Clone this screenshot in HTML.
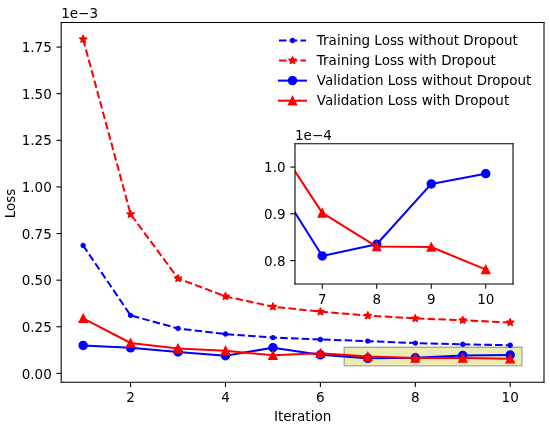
<!DOCTYPE html>
<html><head><meta charset="utf-8"><title>Loss plot</title>
<style>html,body{margin:0;padding:0;background:#fff;width:550px;height:426px;overflow:hidden}svg{display:block}</style>
</head><body>
<svg width="550" height="426" preserveAspectRatio="none" viewBox="0 0 406.905055 315.166461" version="1.1">
 <defs>
  <style type="text/css">*{stroke-linejoin: round; stroke-linecap: butt}</style>
 </defs>
 <g id="figure_1">
  <g id="patch_1">
   <path d="M 0 315.166461 L 406.905055 315.166461 L 406.905055 0 L 0 0 z
" style="fill: #ffffff"/>
  </g>
  <g id="axes_1">
   <g id="patch_2">
    <path d="M 45.277435 282.836005 L 402.466091 282.836005 L 402.466091 16.646116 L 45.277435 16.646116 z
" style="fill: #ffffff"/>
   </g>
   <g id="patch_3">
    <path d="M 254.588232 270.736465 L 386.230243 270.736465 L 386.230243 256.939953 L 254.588232 256.939953 z
" clip-path="url(#p5f7cb0e3a2)" style="fill: #bfbf00; fill-opacity: 0.3; stroke-opacity: 0.3; stroke: #000000; stroke-linejoin: miter"/>
   </g>
   <g id="matplotlib.axis_1">
    <g id="xtick_1">
     <g id="line2d_1">
      <defs>
       <path id="m1504cfccaf" d="M 0 0 L 0 3.5 " style="stroke: #000000; stroke-width: 0.8"/>
      </defs>
      <g>
       <use href="#m1504cfccaf" x="96.617819" y="282.836005" style="stroke: #000000; stroke-width: 0.8"/>
      </g>
     </g>
     <g id="text_1">
      <text style="font-size: 10px; font-family: 'DejaVu Sans', 'Liberation Sans', sans-serif; text-anchor: middle" x="96.617819" y="297.434442" transform="rotate(-0 96.617819 297.434442)">2</text>
     </g>
    </g>
    <g id="xtick_2">
     <g id="line2d_2">
      <g>
       <use href="#m1504cfccaf" x="166.826892" y="282.836005" style="stroke: #000000; stroke-width: 0.8"/>
      </g>
     </g>
     <g id="text_2">
      <text style="font-size: 10px; font-family: 'DejaVu Sans', 'Liberation Sans', sans-serif; text-anchor: middle" x="166.826892" y="297.434442" transform="rotate(-0 166.826892 297.434442)">4</text>
     </g>
    </g>
    <g id="xtick_3">
     <g id="line2d_3">
      <g>
       <use href="#m1504cfccaf" x="237.035964" y="282.836005" style="stroke: #000000; stroke-width: 0.8"/>
      </g>
     </g>
     <g id="text_3">
      <text style="font-size: 10px; font-family: 'DejaVu Sans', 'Liberation Sans', sans-serif; text-anchor: middle" x="237.035964" y="297.434442" transform="rotate(-0 237.035964 297.434442)">6</text>
     </g>
    </g>
    <g id="xtick_4">
     <g id="line2d_4">
      <g>
       <use href="#m1504cfccaf" x="307.245037" y="282.836005" style="stroke: #000000; stroke-width: 0.8"/>
      </g>
     </g>
     <g id="text_4">
      <text style="font-size: 10px; font-family: 'DejaVu Sans', 'Liberation Sans', sans-serif; text-anchor: middle" x="307.245037" y="297.434442" transform="rotate(-0 307.245037 297.434442)">8</text>
     </g>
    </g>
    <g id="xtick_5">
     <g id="line2d_5">
      <g>
       <use href="#m1504cfccaf" x="377.454109" y="282.836005" style="stroke: #000000; stroke-width: 0.8"/>
      </g>
     </g>
     <g id="text_5">
      <text style="font-size: 10px; font-family: 'DejaVu Sans', 'Liberation Sans', sans-serif; text-anchor: middle" x="377.454109" y="297.434442" transform="rotate(-0 377.454109 297.434442)">10</text>
     </g>
    </g>
    <g id="text_6">
     <text style="font-size: 10px; font-family: 'DejaVu Sans', 'Liberation Sans', sans-serif; text-anchor: middle" x="223.871763" y="311.112567" transform="rotate(-0 223.871763 311.112567)">Iteration</text>
    </g>
   </g>
   <g id="matplotlib.axis_2">
    <g id="ytick_1">
     <g id="line2d_6">
      <defs>
       <path id="m5d545ce8f8" d="M 0 0 L -3.5 0 " style="stroke: #000000; stroke-width: 0.8"/>
      </defs>
      <g>
       <use href="#m5d545ce8f8" x="45.277435" y="276.255069" style="stroke: #000000; stroke-width: 0.8"/>
      </g>
     </g>
     <g id="text_7">
      <text style="font-size: 10px; font-family: 'DejaVu Sans', 'Liberation Sans', sans-serif; text-anchor: end" x="38.277435" y="280.054288" transform="rotate(-0 38.277435 280.054288)">0.00</text>
     </g>
    </g>
    <g id="ytick_2">
     <g id="line2d_7">
      <g>
       <use href="#m5d545ce8f8" x="45.277435" y="241.763791" style="stroke: #000000; stroke-width: 0.8"/>
      </g>
     </g>
     <g id="text_8">
      <text style="font-size: 10px; font-family: 'DejaVu Sans', 'Liberation Sans', sans-serif; text-anchor: end" x="38.277435" y="245.56301" transform="rotate(-0 38.277435 245.56301)">0.25</text>
     </g>
    </g>
    <g id="ytick_3">
     <g id="line2d_8">
      <g>
       <use href="#m5d545ce8f8" x="45.277435" y="207.272513" style="stroke: #000000; stroke-width: 0.8"/>
      </g>
     </g>
     <g id="text_9">
      <text style="font-size: 10px; font-family: 'DejaVu Sans', 'Liberation Sans', sans-serif; text-anchor: end" x="38.277435" y="211.071731" transform="rotate(-0 38.277435 211.071731)">0.50</text>
     </g>
    </g>
    <g id="ytick_4">
     <g id="line2d_9">
      <g>
       <use href="#m5d545ce8f8" x="45.277435" y="172.781234" style="stroke: #000000; stroke-width: 0.8"/>
      </g>
     </g>
     <g id="text_10">
      <text style="font-size: 10px; font-family: 'DejaVu Sans', 'Liberation Sans', sans-serif; text-anchor: end" x="38.277435" y="176.580453" transform="rotate(-0 38.277435 176.580453)">0.75</text>
     </g>
    </g>
    <g id="ytick_5">
     <g id="line2d_10">
      <g>
       <use href="#m5d545ce8f8" x="45.277435" y="138.289956" style="stroke: #000000; stroke-width: 0.8"/>
      </g>
     </g>
     <g id="text_11">
      <text style="font-size: 10px; font-family: 'DejaVu Sans', 'Liberation Sans', sans-serif; text-anchor: end" x="38.277435" y="142.089175" transform="rotate(-0 38.277435 142.089175)">1.00</text>
     </g>
    </g>
    <g id="ytick_6">
     <g id="line2d_11">
      <g>
       <use href="#m5d545ce8f8" x="45.277435" y="103.798678" style="stroke: #000000; stroke-width: 0.8"/>
      </g>
     </g>
     <g id="text_12">
      <text style="font-size: 10px; font-family: 'DejaVu Sans', 'Liberation Sans', sans-serif; text-anchor: end" x="38.277435" y="107.597897" transform="rotate(-0 38.277435 107.597897)">1.25</text>
     </g>
    </g>
    <g id="ytick_7">
     <g id="line2d_12">
      <g>
       <use href="#m5d545ce8f8" x="45.277435" y="69.3074" style="stroke: #000000; stroke-width: 0.8"/>
      </g>
     </g>
     <g id="text_13">
      <text style="font-size: 10px; font-family: 'DejaVu Sans', 'Liberation Sans', sans-serif; text-anchor: end" x="38.277435" y="73.106618" transform="rotate(-0 38.277435 73.106618)">1.50</text>
     </g>
    </g>
    <g id="ytick_8">
     <g id="line2d_13">
      <g>
       <use href="#m5d545ce8f8" x="45.277435" y="34.816121" style="stroke: #000000; stroke-width: 0.8"/>
      </g>
     </g>
     <g id="text_14">
      <text style="font-size: 10px; font-family: 'DejaVu Sans', 'Liberation Sans', sans-serif; text-anchor: end" x="38.277435" y="38.61534" transform="rotate(-0 38.277435 38.61534)">1.75</text>
     </g>
    </g>
    <g id="text_15">
     <text style="font-size: 10px; font-family: 'DejaVu Sans', 'Liberation Sans', sans-serif; text-anchor: middle" x="11.332123" y="150.53963" transform="rotate(-90 11.332123 150.53963)">Loss</text>
    </g>
    <g id="text_16">
     <text style="font-size: 10px; font-family: 'DejaVu Sans', 'Liberation Sans', sans-serif; text-anchor: start" x="45.277435" y="13.646116" transform="rotate(-0 45.277435 13.646116)">1e−3</text>
    </g>
   </g>
   <g id="line2d_14">
    <path d="M 61.513283 181.611002 L 96.617819 233.347919 L 131.722356 243.005477 L 166.826892 247.14443 L 201.931428 249.765767 L 237.035964 251.145418 L 272.140501 252.387104 L 307.245037 253.835738 L 342.349573 254.732511 L 377.454109 255.422337 " clip-path="url(#p5f7cb0e3a2)" style="fill: none; stroke-dasharray: 5.55,2.4; stroke-dashoffset: 0; stroke: #0000ff; stroke-width: 1.5"/>
    <defs>
     <path id="mf9d3db6a98" d="M 0 1.5 C 0.397805 1.5 0.77937 1.341951 1.06066 1.06066 C 1.341951 0.77937 1.5 0.397805 1.5 0 C 1.5 -0.397805 1.341951 -0.77937 1.06066 -1.06066 C 0.77937 -1.341951 0.397805 -1.5 0 -1.5 C -0.397805 -1.5 -0.77937 -1.341951 -1.06066 -1.06066 C -1.341951 -0.77937 -1.5 -0.397805 -1.5 0 C -1.5 0.397805 -1.341951 0.77937 -1.06066 1.06066 C -0.77937 1.341951 -0.397805 1.5 0 1.5 z
" style="stroke: #0000ff"/>
    </defs>
    <g clip-path="url(#p5f7cb0e3a2)">
     <use href="#mf9d3db6a98" x="61.513283" y="181.611002" style="fill: #0000ff; stroke: #0000ff"/>
     <use href="#mf9d3db6a98" x="96.617819" y="233.347919" style="fill: #0000ff; stroke: #0000ff"/>
     <use href="#mf9d3db6a98" x="131.722356" y="243.005477" style="fill: #0000ff; stroke: #0000ff"/>
     <use href="#mf9d3db6a98" x="166.826892" y="247.14443" style="fill: #0000ff; stroke: #0000ff"/>
     <use href="#mf9d3db6a98" x="201.931428" y="249.765767" style="fill: #0000ff; stroke: #0000ff"/>
     <use href="#mf9d3db6a98" x="237.035964" y="251.145418" style="fill: #0000ff; stroke: #0000ff"/>
     <use href="#mf9d3db6a98" x="272.140501" y="252.387104" style="fill: #0000ff; stroke: #0000ff"/>
     <use href="#mf9d3db6a98" x="307.245037" y="253.835738" style="fill: #0000ff; stroke: #0000ff"/>
     <use href="#mf9d3db6a98" x="342.349573" y="254.732511" style="fill: #0000ff; stroke: #0000ff"/>
     <use href="#mf9d3db6a98" x="377.454109" y="255.422337" style="fill: #0000ff; stroke: #0000ff"/>
    </g>
   </g>
   <g id="line2d_15">
    <path d="M 61.513283 28.952604 L 96.617819 158.432863 L 131.722356 206.030827 L 166.826892 219.275477 L 201.931428 226.863559 L 237.035964 230.588617 L 272.140501 233.485884 L 307.245037 235.555361 L 342.349573 236.935012 L 377.454109 238.590593 " clip-path="url(#p5f7cb0e3a2)" style="fill: none; stroke-dasharray: 5.55,2.4; stroke-dashoffset: 0; stroke: #ff0000; stroke-width: 1.5"/>
    <defs>
     <path id="m6408eb3234" d="M 0 -3 L -0.673542 -0.927051 L -2.85317 -0.927051 L -1.089814 0.354102 L -1.763356 2.427051 L -0 1.145898 L 1.763356 2.427051 L 1.089814 0.354102 L 2.85317 -0.927051 L 0.673542 -0.927051 z
" style="stroke: #ff0000; stroke-linejoin: bevel"/>
    </defs>
    <g clip-path="url(#p5f7cb0e3a2)">
     <use href="#m6408eb3234" x="61.513283" y="28.952604" style="fill: #ff0000; stroke: #ff0000; stroke-linejoin: bevel"/>
     <use href="#m6408eb3234" x="96.617819" y="158.432863" style="fill: #ff0000; stroke: #ff0000; stroke-linejoin: bevel"/>
     <use href="#m6408eb3234" x="131.722356" y="206.030827" style="fill: #ff0000; stroke: #ff0000; stroke-linejoin: bevel"/>
     <use href="#m6408eb3234" x="166.826892" y="219.275477" style="fill: #ff0000; stroke: #ff0000; stroke-linejoin: bevel"/>
     <use href="#m6408eb3234" x="201.931428" y="226.863559" style="fill: #ff0000; stroke: #ff0000; stroke-linejoin: bevel"/>
     <use href="#m6408eb3234" x="237.035964" y="230.588617" style="fill: #ff0000; stroke: #ff0000; stroke-linejoin: bevel"/>
     <use href="#m6408eb3234" x="272.140501" y="233.485884" style="fill: #ff0000; stroke: #ff0000; stroke-linejoin: bevel"/>
     <use href="#m6408eb3234" x="307.245037" y="235.555361" style="fill: #ff0000; stroke: #ff0000; stroke-linejoin: bevel"/>
     <use href="#m6408eb3234" x="342.349573" y="236.935012" style="fill: #ff0000; stroke: #ff0000; stroke-linejoin: bevel"/>
     <use href="#m6408eb3234" x="377.454109" y="238.590593" style="fill: #ff0000; stroke: #ff0000; stroke-linejoin: bevel"/>
    </g>
   </g>
   <g id="line2d_16">
    <path d="M 61.513283 255.560302 L 96.617819 257.353849 L 131.722356 260.389081 L 166.826892 263.148383 L 201.931428 257.215883 L 237.035964 262.52754 L 272.140501 265.079895 L 307.245037 264.734982 L 342.349573 262.955232 L 377.454109 262.651709 " clip-path="url(#p5f7cb0e3a2)" style="fill: none; stroke: #0000ff; stroke-width: 1.5; stroke-linecap: square"/>
    <defs>
     <path id="m07ba7ed919" d="M 0 3 C 0.795609 3 1.55874 2.683901 2.12132 2.12132 C 2.683901 1.55874 3 0.795609 3 0 C 3 -0.795609 2.683901 -1.55874 2.12132 -2.12132 C 1.55874 -2.683901 0.795609 -3 0 -3 C -0.795609 -3 -1.55874 -2.683901 -2.12132 -2.12132 C -2.683901 -1.55874 -3 -0.795609 -3 0 C -3 0.795609 -2.683901 1.55874 -2.12132 2.12132 C -1.55874 2.683901 -0.795609 3 0 3 z
" style="stroke: #0000ff"/>
    </defs>
    <g clip-path="url(#p5f7cb0e3a2)">
     <use href="#m07ba7ed919" x="61.513283" y="255.560302" style="fill: #0000ff; stroke: #0000ff"/>
     <use href="#m07ba7ed919" x="96.617819" y="257.353849" style="fill: #0000ff; stroke: #0000ff"/>
     <use href="#m07ba7ed919" x="131.722356" y="260.389081" style="fill: #0000ff; stroke: #0000ff"/>
     <use href="#m07ba7ed919" x="166.826892" y="263.148383" style="fill: #0000ff; stroke: #0000ff"/>
     <use href="#m07ba7ed919" x="201.931428" y="257.215883" style="fill: #0000ff; stroke: #0000ff"/>
     <use href="#m07ba7ed919" x="237.035964" y="262.52754" style="fill: #0000ff; stroke: #0000ff"/>
     <use href="#m07ba7ed919" x="272.140501" y="265.079895" style="fill: #0000ff; stroke: #0000ff"/>
     <use href="#m07ba7ed919" x="307.245037" y="264.734982" style="fill: #0000ff; stroke: #0000ff"/>
     <use href="#m07ba7ed919" x="342.349573" y="262.955232" style="fill: #0000ff; stroke: #0000ff"/>
     <use href="#m07ba7ed919" x="377.454109" y="262.651709" style="fill: #0000ff; stroke: #0000ff"/>
    </g>
   </g>
   <g id="line2d_17">
    <path d="M 61.513283 235.555361 L 96.617819 253.766756 L 131.722356 257.767744 L 166.826892 259.423325 L 201.931428 262.872453 L 237.035964 261.354837 L 272.140501 263.810616 L 307.245037 264.803965 L 342.349573 264.817761 L 377.454109 265.479994 " clip-path="url(#p5f7cb0e3a2)" style="fill: none; stroke: #ff0000; stroke-width: 1.5; stroke-linecap: square"/>
    <defs>
     <path id="m741408d3e5" d="M 0 -3 L -3 3 L 3 3 z
" style="stroke: #ff0000; stroke-linejoin: miter"/>
    </defs>
    <g clip-path="url(#p5f7cb0e3a2)">
     <use href="#m741408d3e5" x="61.513283" y="235.555361" style="fill: #ff0000; stroke: #ff0000; stroke-linejoin: miter"/>
     <use href="#m741408d3e5" x="96.617819" y="253.766756" style="fill: #ff0000; stroke: #ff0000; stroke-linejoin: miter"/>
     <use href="#m741408d3e5" x="131.722356" y="257.767744" style="fill: #ff0000; stroke: #ff0000; stroke-linejoin: miter"/>
     <use href="#m741408d3e5" x="166.826892" y="259.423325" style="fill: #ff0000; stroke: #ff0000; stroke-linejoin: miter"/>
     <use href="#m741408d3e5" x="201.931428" y="262.872453" style="fill: #ff0000; stroke: #ff0000; stroke-linejoin: miter"/>
     <use href="#m741408d3e5" x="237.035964" y="261.354837" style="fill: #ff0000; stroke: #ff0000; stroke-linejoin: miter"/>
     <use href="#m741408d3e5" x="272.140501" y="263.810616" style="fill: #ff0000; stroke: #ff0000; stroke-linejoin: miter"/>
     <use href="#m741408d3e5" x="307.245037" y="264.803965" style="fill: #ff0000; stroke: #ff0000; stroke-linejoin: miter"/>
     <use href="#m741408d3e5" x="342.349573" y="264.817761" style="fill: #ff0000; stroke: #ff0000; stroke-linejoin: miter"/>
     <use href="#m741408d3e5" x="377.454109" y="265.479994" style="fill: #ff0000; stroke: #ff0000; stroke-linejoin: miter"/>
    </g>
   </g>
   <g id="patch_4">
    <path d="M 45.277435 282.836005 L 45.277435 16.646116 " style="fill: none; stroke: #000000; stroke-width: 0.8; stroke-linejoin: miter; stroke-linecap: square"/>
   </g>
   <g id="patch_5">
    <path d="M 402.466091 282.836005 L 402.466091 16.646116 " style="fill: none; stroke: #000000; stroke-width: 0.8; stroke-linejoin: miter; stroke-linecap: square"/>
   </g>
   <g id="patch_6">
    <path d="M 45.277435 282.836005 L 402.466091 282.836005 " style="fill: none; stroke: #000000; stroke-width: 0.8; stroke-linejoin: miter; stroke-linecap: square"/>
   </g>
   <g id="patch_7">
    <path d="M 45.277435 16.646116 L 402.466091 16.646116 " style="fill: none; stroke: #000000; stroke-width: 0.8; stroke-linejoin: miter; stroke-linecap: square"/>
   </g>
   <g id="legend_1">
    <g id="line2d_18">
     <path d="M 206.395779 29.944553 L 216.395779 29.944553 L 226.395779 29.944553 " style="fill: none; stroke-dasharray: 5.55,2.4; stroke-dashoffset: 0; stroke: #0000ff; stroke-width: 1.5"/>
     <g>
      <use href="#mf9d3db6a98" x="216.395779" y="29.944553" style="fill: #0000ff; stroke: #0000ff"/>
     </g>
    </g>
    <g id="text_17">
     <text style="font-size: 10px; font-family: 'DejaVu Sans', 'Liberation Sans', sans-serif; text-anchor: start" x="234.395779" y="33.444553" transform="rotate(-0 234.395779 33.444553)">Training Loss without Dropout</text>
    </g>
    <g id="line2d_19">
     <path d="M 206.395779 44.792678 L 216.395779 44.792678 L 226.395779 44.792678 " style="fill: none; stroke-dasharray: 5.55,2.4; stroke-dashoffset: 0; stroke: #ff0000; stroke-width: 1.5"/>
     <g>
      <use href="#m6408eb3234" x="216.395779" y="44.792678" style="fill: #ff0000; stroke: #ff0000; stroke-linejoin: bevel"/>
     </g>
    </g>
    <g id="text_18">
     <text style="font-size: 10px; font-family: 'DejaVu Sans', 'Liberation Sans', sans-serif; text-anchor: start" x="234.395779" y="48.292678" transform="rotate(-0 234.395779 48.292678)">Training Loss with Dropout</text>
    </g>
    <g id="line2d_20">
     <path d="M 206.395779 59.640803 L 216.395779 59.640803 L 226.395779 59.640803 " style="fill: none; stroke: #0000ff; stroke-width: 1.5; stroke-linecap: square"/>
     <g>
      <use href="#m07ba7ed919" x="216.395779" y="59.640803" style="fill: #0000ff; stroke: #0000ff"/>
     </g>
    </g>
    <g id="text_19">
     <text style="font-size: 10px; font-family: 'DejaVu Sans', 'Liberation Sans', sans-serif; text-anchor: start" x="234.395779" y="63.140803" transform="rotate(-0 234.395779 63.140803)">Validation Loss without Dropout</text>
    </g>
    <g id="line2d_21">
     <path d="M 206.395779 74.488928 L 216.395779 74.488928 L 226.395779 74.488928 " style="fill: none; stroke: #ff0000; stroke-width: 1.5; stroke-linecap: square"/>
     <g>
      <use href="#m741408d3e5" x="216.395779" y="74.488928" style="fill: #ff0000; stroke: #ff0000; stroke-linejoin: miter"/>
     </g>
    </g>
    <g id="text_20">
     <text style="font-size: 10px; font-family: 'DejaVu Sans', 'Liberation Sans', sans-serif; text-anchor: start" x="234.395779" y="77.988928" transform="rotate(-0 234.395779 77.988928)">Validation Loss with Dropout</text>
    </g>
   </g>
  </g>
  <g id="axes_2">
   <g id="patch_8">
    <path d="M 218.249075 210.110974 L 379.531443 210.110974 L 379.531443 106.313194 L 218.249075 106.313194 z
" style="fill: #ffffff"/>
   </g>
   <g id="matplotlib.axis_3">
    <g id="xtick_6">
     <g id="line2d_22">
      <g>
       <use href="#m1504cfccaf" x="238.409371" y="210.110974" style="stroke: #000000; stroke-width: 0.8"/>
      </g>
     </g>
     <g id="text_21">
      <text style="font-size: 10px; font-family: 'DejaVu Sans', 'Liberation Sans', sans-serif; text-anchor: middle" x="238.409371" y="224.709412" transform="rotate(-0 238.409371 224.709412)">7</text>
     </g>
    </g>
    <g id="xtick_7">
     <g id="line2d_23">
      <g>
       <use href="#m1504cfccaf" x="278.729963" y="210.110974" style="stroke: #000000; stroke-width: 0.8"/>
      </g>
     </g>
     <g id="text_22">
      <text style="font-size: 10px; font-family: 'DejaVu Sans', 'Liberation Sans', sans-serif; text-anchor: middle" x="278.729963" y="224.709412" transform="rotate(-0 278.729963 224.709412)">8</text>
     </g>
    </g>
    <g id="xtick_8">
     <g id="line2d_24">
      <g>
       <use href="#m1504cfccaf" x="319.050555" y="210.110974" style="stroke: #000000; stroke-width: 0.8"/>
      </g>
     </g>
     <g id="text_23">
      <text style="font-size: 10px; font-family: 'DejaVu Sans', 'Liberation Sans', sans-serif; text-anchor: middle" x="319.050555" y="224.709412" transform="rotate(-0 319.050555 224.709412)">9</text>
     </g>
    </g>
    <g id="xtick_9">
     <g id="line2d_25">
      <g>
       <use href="#m1504cfccaf" x="359.371147" y="210.110974" style="stroke: #000000; stroke-width: 0.8"/>
      </g>
     </g>
     <g id="text_24">
      <text style="font-size: 10px; font-family: 'DejaVu Sans', 'Liberation Sans', sans-serif; text-anchor: middle" x="359.371147" y="224.709412" transform="rotate(-0 359.371147 224.709412)">10</text>
     </g>
    </g>
   </g>
   <g id="matplotlib.axis_4">
    <g id="ytick_9">
     <g id="line2d_26">
      <g>
       <use href="#m5d545ce8f8" x="218.249075" y="192.811344" style="stroke: #000000; stroke-width: 0.8"/>
      </g>
     </g>
     <g id="text_25">
      <text style="font-size: 10px; font-family: 'DejaVu Sans', 'Liberation Sans', sans-serif; text-anchor: end" x="211.249075" y="196.610563" transform="rotate(-0 211.249075 196.610563)">0.8</text>
     </g>
    </g>
    <g id="ytick_10">
     <g id="line2d_27">
      <g>
       <use href="#m5d545ce8f8" x="218.249075" y="158.212084" style="stroke: #000000; stroke-width: 0.8"/>
      </g>
     </g>
     <g id="text_26">
      <text style="font-size: 10px; font-family: 'DejaVu Sans', 'Liberation Sans', sans-serif; text-anchor: end" x="211.249075" y="162.011303" transform="rotate(-0 211.249075 162.011303)">0.9</text>
     </g>
    </g>
    <g id="ytick_11">
     <g id="line2d_28">
      <g>
       <use href="#m5d545ce8f8" x="218.249075" y="123.612824" style="stroke: #000000; stroke-width: 0.8"/>
      </g>
     </g>
     <g id="text_27">
      <text style="font-size: 10px; font-family: 'DejaVu Sans', 'Liberation Sans', sans-serif; text-anchor: end" x="211.249075" y="127.412042" transform="rotate(-0 211.249075 127.412042)">1.0</text>
     </g>
    </g>
    <g id="text_28">
     <text style="font-size: 10px; font-family: 'DejaVu Sans', 'Liberation Sans', sans-serif; text-anchor: start" x="218.249075" y="103.313194" transform="rotate(-0 218.249075 103.313194)">1e−4</text>
    </g>
   </g>
   <g id="line2d_29">
    <path clip-path="url(#p39e0e1a22c)" style="fill: none; stroke-dasharray: 5.55,2.4; stroke-dashoffset: 0; stroke: #0000ff; stroke-width: 1.5"/>
    <g clip-path="url(#p39e0e1a22c)"/>
   </g>
   <g id="line2d_30">
    <path clip-path="url(#p39e0e1a22c)" style="fill: none; stroke-dasharray: 5.55,2.4; stroke-dashoffset: 0; stroke: #ff0000; stroke-width: 1.5"/>
    <g clip-path="url(#p39e0e1a22c)"/>
   </g>
   <g id="line2d_31">
    <path d="M 38.609774 -1 L 77.127004 71.713933 L 117.447596 140.912454 L 155.907849 -1 M 159.845968 -1 L 198.088779 125.342787 L 238.409371 189.351418 L 278.729963 180.701603 L 319.050555 136.068557 L 359.371147 128.45672 " clip-path="url(#p39e0e1a22c)" style="fill: none; stroke: #0000ff; stroke-width: 1.5; stroke-linecap: square"/>
    <g clip-path="url(#p39e0e1a22c)">
     <use href="#m07ba7ed919" x="38.609774" y="-1" style="fill: #0000ff; stroke: #0000ff"/>
     <use href="#m07ba7ed919" x="77.127004" y="71.713933" style="fill: #0000ff; stroke: #0000ff"/>
     <use href="#m07ba7ed919" x="117.447596" y="140.912454" style="fill: #0000ff; stroke: #0000ff"/>
     <use href="#m07ba7ed919" x="155.907849" y="-1" style="fill: #0000ff; stroke: #0000ff"/>
     <use href="#m07ba7ed919" x="159.845968" y="-1" style="fill: #0000ff; stroke: #0000ff"/>
     <use href="#m07ba7ed919" x="198.088779" y="125.342787" style="fill: #0000ff; stroke: #0000ff"/>
     <use href="#m07ba7ed919" x="238.409371" y="189.351418" style="fill: #0000ff; stroke: #0000ff"/>
     <use href="#m07ba7ed919" x="278.729963" y="180.701603" style="fill: #0000ff; stroke: #0000ff"/>
     <use href="#m07ba7ed919" x="319.050555" y="136.068557" style="fill: #0000ff; stroke: #0000ff"/>
     <use href="#m07ba7ed919" x="359.371147" y="128.45672" style="fill: #0000ff; stroke: #0000ff"/>
    </g>
   </g>
   <g id="line2d_32">
    <path d="M 74.323976 -1 L 77.127004 5.975339 L 117.447596 47.494451 L 157.768187 133.992602 L 198.088779 95.933416 L 238.409371 157.520099 L 278.729963 182.431566 L 319.050555 182.777559 L 359.371147 199.385203 " clip-path="url(#p39e0e1a22c)" style="fill: none; stroke: #ff0000; stroke-width: 1.5; stroke-linecap: square"/>
    <g clip-path="url(#p39e0e1a22c)">
     <use href="#m741408d3e5" x="74.323976" y="-1" style="fill: #ff0000; stroke: #ff0000; stroke-linejoin: miter"/>
     <use href="#m741408d3e5" x="77.127004" y="5.975339" style="fill: #ff0000; stroke: #ff0000; stroke-linejoin: miter"/>
     <use href="#m741408d3e5" x="117.447596" y="47.494451" style="fill: #ff0000; stroke: #ff0000; stroke-linejoin: miter"/>
     <use href="#m741408d3e5" x="157.768187" y="133.992602" style="fill: #ff0000; stroke: #ff0000; stroke-linejoin: miter"/>
     <use href="#m741408d3e5" x="198.088779" y="95.933416" style="fill: #ff0000; stroke: #ff0000; stroke-linejoin: miter"/>
     <use href="#m741408d3e5" x="238.409371" y="157.520099" style="fill: #ff0000; stroke: #ff0000; stroke-linejoin: miter"/>
     <use href="#m741408d3e5" x="278.729963" y="182.431566" style="fill: #ff0000; stroke: #ff0000; stroke-linejoin: miter"/>
     <use href="#m741408d3e5" x="319.050555" y="182.777559" style="fill: #ff0000; stroke: #ff0000; stroke-linejoin: miter"/>
     <use href="#m741408d3e5" x="359.371147" y="199.385203" style="fill: #ff0000; stroke: #ff0000; stroke-linejoin: miter"/>
    </g>
   </g>
   <g id="patch_9">
    <path d="M 218.249075 210.110974 L 218.249075 106.313194 " style="fill: none; stroke: #000000; stroke-width: 0.8; stroke-linejoin: miter; stroke-linecap: square"/>
   </g>
   <g id="patch_10">
    <path d="M 379.531443 210.110974 L 379.531443 106.313194 " style="fill: none; stroke: #000000; stroke-width: 0.8; stroke-linejoin: miter; stroke-linecap: square"/>
   </g>
   <g id="patch_11">
    <path d="M 218.249075 210.110974 L 379.531443 210.110974 " style="fill: none; stroke: #000000; stroke-width: 0.8; stroke-linejoin: miter; stroke-linecap: square"/>
   </g>
   <g id="patch_12">
    <path d="M 218.249075 106.313194 L 379.531443 106.313194 " style="fill: none; stroke: #000000; stroke-width: 0.8; stroke-linejoin: miter; stroke-linecap: square"/>
   </g>
  </g>
 </g>
 <defs>
  <clipPath id="p5f7cb0e3a2">
   <rect x="45.277435" y="16.646116" width="357.188656" height="266.189889"/>
  </clipPath>
  <clipPath id="p39e0e1a22c">
   <rect x="218.249075" y="106.313194" width="161.282367" height="103.797781"/>
  </clipPath>
 </defs>
</svg>

</body></html>
